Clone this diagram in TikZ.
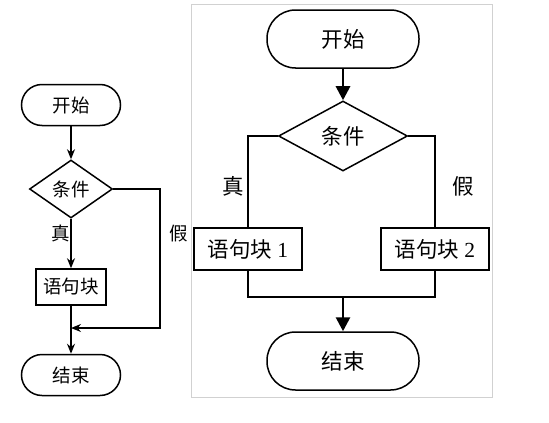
\documentclass[tikz,border=0pt]{standalone}
\usepackage{fontspec}
\setmainfont{Liberation Serif}
\newfontfamily\cjk{Noto Sans CJK SC}
\usetikzlibrary{shapes.geometric,arrows.meta}
\tikzset{
  base/.style={draw=black, line width=1.5pt, inner sep=0pt, font=\cjk},
  fL/.style={font=\cjk\fontsize{18.5}{18.5}\selectfont},
  fR/.style={font=\cjk\fontsize{21.5}{21.5}\selectfont},
  termL/.style={base, fL, rectangle, rounded corners=20.5pt, minimum width=99pt, minimum height=41pt},
  decL/.style={base, fL, diamond, minimum width=83pt, minimum height=58pt},
  boxL/.style={base, fL, rectangle, minimum width=70pt, minimum height=36pt},
  termR/.style={base, fR, rectangle, rounded corners=28.5pt, minimum width=152pt, minimum height=58pt},
  decR/.style={base, fR, diamond, minimum width=129pt, minimum height=70pt},
  boxR/.style={base, fR, rectangle, minimum width=108pt, minimum height=42pt},
  lblL/.style={fL, inner sep=0pt},
  lblR/.style={fR, inner sep=0pt},
  flowL/.style={line width=2pt, -{Stealth[length=10pt,width=8pt]}},
  thinL/.style={line width=1.5pt},
  flowR/.style={line width=2.8pt, -{Triangle[length=14pt,width=14pt]}},
  thinR/.style={line width=1.5pt},
  frame/.style={draw=black!18, line width=0.8pt}
}
\begin{document}
\begin{tikzpicture}[x=1pt,y=-1pt]
\useasboundingbox (0,0) rectangle (549,423);
% frame of right chart
\draw[frame] (191,4) rectangle (492,397);

% ---------- left chart ----------
\node[termL] (s1) at (71,105) {开始};
\node[decL]  (c1) at (71,189) {条件};
\node[boxL]  (b1) at (71,287) {语句块};
\node[termL] (e1) at (71,375) {结束};
\coordinate (m1) at (71,328);
\coordinate (f1) at (160,189);
\node[lblL] (t1) at (61,233) {真};
\node[lblL] (g1) at (179,234) {假};

\draw[flowL] (s1) -- (c1);
\draw[flowL] (c1) -- (b1);
\draw[flowL] (b1) -- (e1);
\draw[thinL, -{Stealth[length=10pt,width=8pt]}] (c1.east) -- (f1) |- (m1);

% ---------- right chart ----------
\node[termR] (s2) at (343,39) {开始};
\node[decR]  (c2) at (343,136) {条件};
\node[boxR]  (b2) at (248,249) {语句块 {\rmfamily 1}};
\node[boxR]  (b3) at (435,249) {语句块 {\rmfamily 2}};
\node[termR] (e2) at (343,361) {结束};
\coordinate (j2) at (343,297);
\node[lblR] (t2) at (233,186) {真};
\node[lblR] (g2) at (463,186) {假};

\draw[flowR] (s2) -- (c2);
\draw[thinR] (c2.west) -| (b2.north);
\draw[thinR] (c2.east) -| (b3.north);
\draw[thinR] (b2.south) |- (j2) -| (b3.south);
\draw[flowR] (j2) -- (e2);
\end{tikzpicture}
\end{document}
